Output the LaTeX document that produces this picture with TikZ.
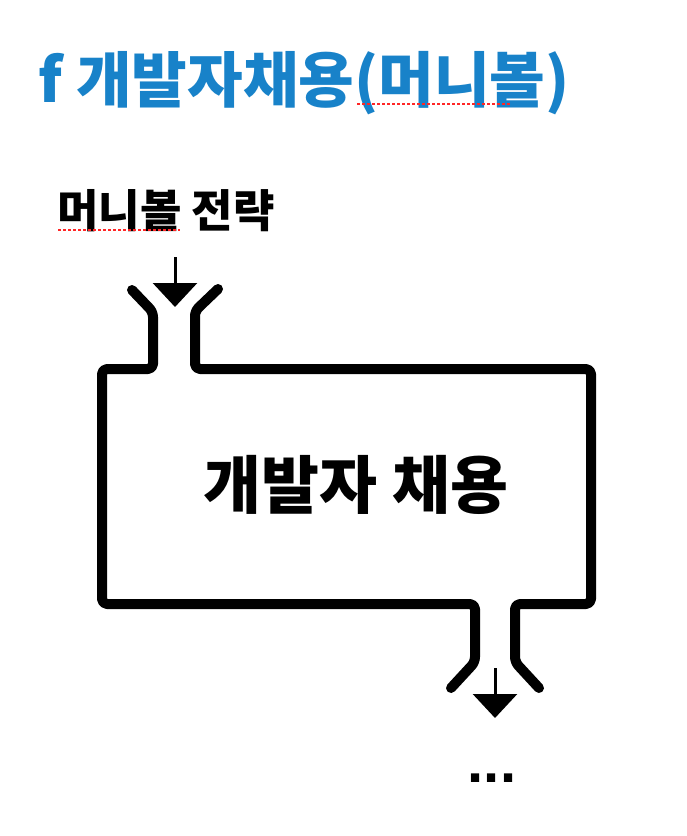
\documentclass[tikz,border=0pt]{standalone}
\usepackage{fontspec}
\setmainfont{Noto Sans CJK KR}
\newfontfamily\dotfont{Liberation Sans}
\usepackage{tikz}
\usetikzlibrary{arrows.meta,calc,positioning}
\definecolor{titleblue}{RGB}{24,130,201}
\tikzset{
  wall/.style={line width=10pt,line cap=round,line join=round,rounded corners=5pt},
  flow/.style={line width=3pt,-{Triangle[width=44pt,length=24pt]}},
  spell/.style={draw=red!85,line width=2.5pt,dash pattern=on 2.5pt off 2.5pt},
}

\begin{document}
\begin{tikzpicture}[x=1pt,y=-1pt]
		\useasboundingbox[fill=white] (0,0) rectangle (686,836);
		% title and label
		\node[anchor=base west,inner sep=0pt,text=titleblue,font=\fontsize{60.5}{64}\selectfont\bfseries] (title) at (38,102) {f 개발자채용(머니볼)};
		\node[anchor=base west,inner sep=0pt,font=\fontsize{45}{48}\selectfont\bfseries] (strategy) at (57,227) {머니볼 전략};
		\draw[spell] (357,104) to (510,104);
		\draw[spell] (58,230) to (180,230);
		% in funnel
		\coordinate (in1) at (175,257);
		\coordinate (in2) at (175,307);
		\draw[flow] (in1) to (in2);
		% box outline
		\draw[wall] (132,290) -- (153,312) -- (153,369) -- (102,369) -- (102,604) -- (475,604) -- (475,662) -- (451,688);
		\draw[wall] (218,289) -- (195,311) -- (195,369) -- (591,369) -- (591,604) -- (515,604) -- (515,662) -- (539,688);
		\node[font=\fontsize{63}{66}\selectfont\bfseries] (hire) at (356,485) {개발자 채용};
		% out funnel
		\coordinate (out1) at (495,668);
		\coordinate (out2) at (495,718);
		\draw[flow] (out1) to (out2);
		\node[anchor=base,inner sep=0pt,font=\dotfont\fontsize{58}{60}\selectfont\bfseries] (dots) at (492,782) {...};
	\end{tikzpicture}
\end{document}
